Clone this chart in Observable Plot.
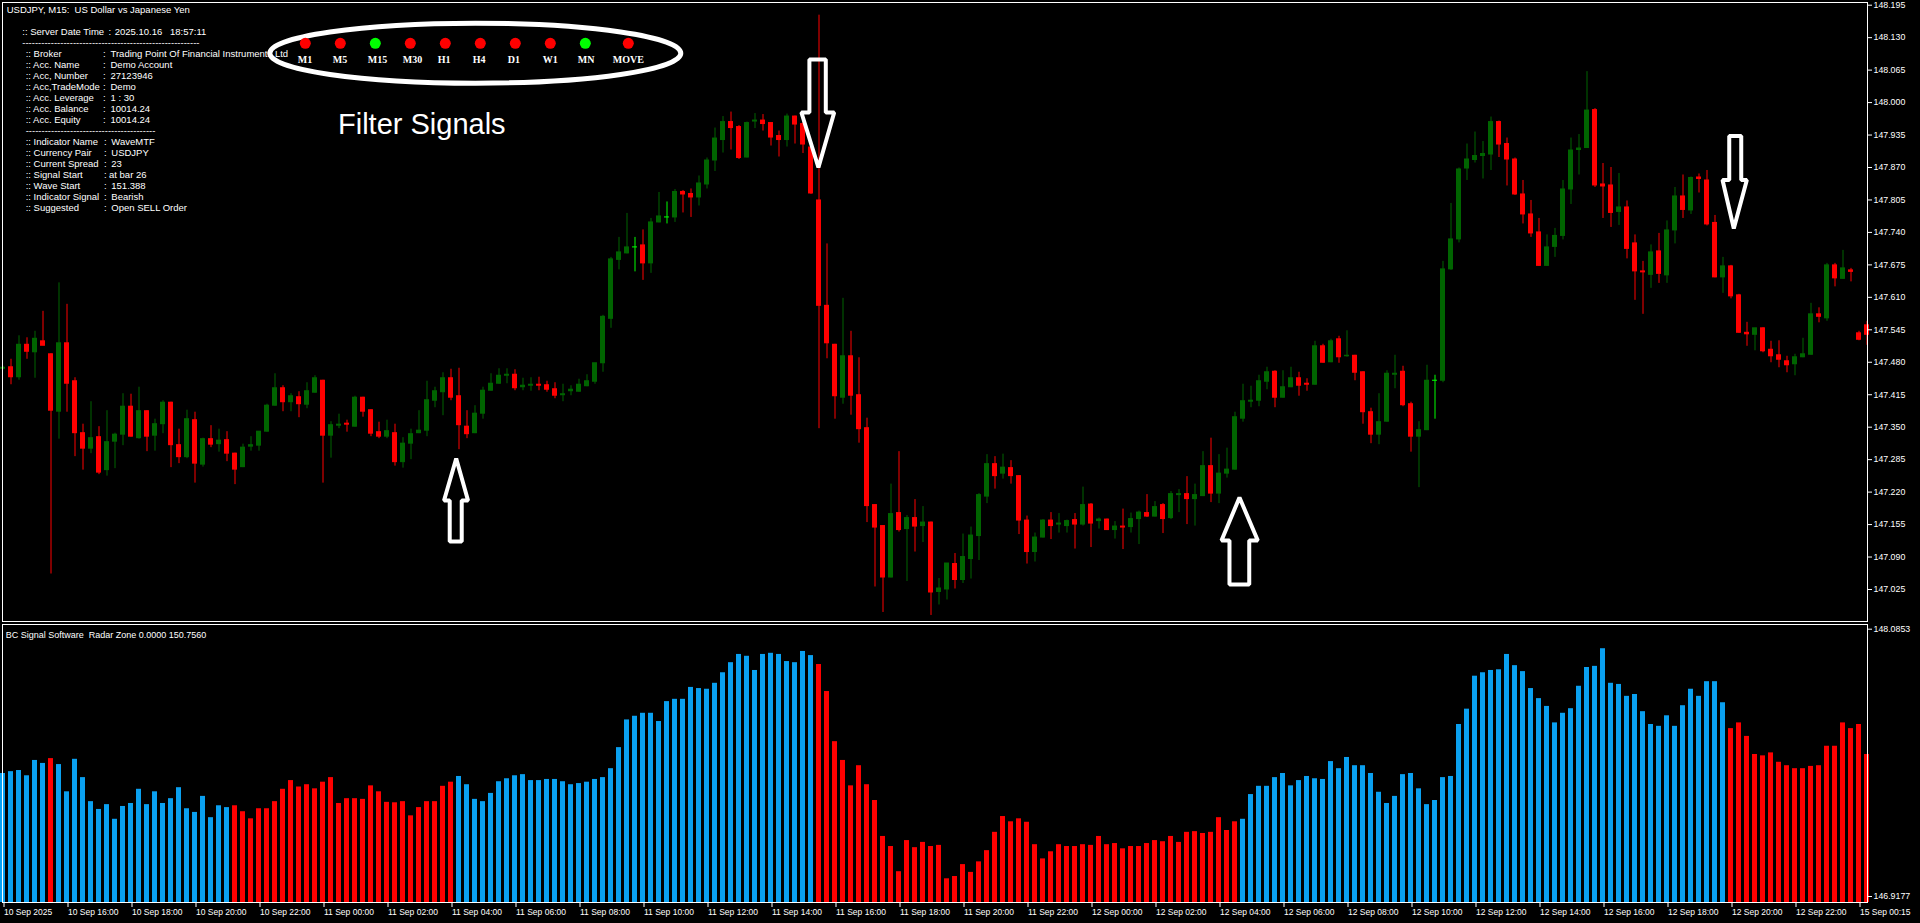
<!DOCTYPE html>
<html><head><meta charset="utf-8">
<script src="https://cdn.jsdelivr.net/npm/d3@7"></script>
<script src="https://cdn.jsdelivr.net/npm/@observablehq/plot@0.6"></script>
<style>
html,body{margin:0;padding:0;background:#000;}
#wrap{position:relative;width:1920px;height:923px;background:#000;overflow:hidden;}
#main,#lower{position:absolute;left:0;width:1920px;}
#main{top:0;}
#lower{top:622px;}
#overlay{position:absolute;left:0;top:0;pointer-events:none;}
</style></head>
<body><div id="wrap"><div id="main"></div><div id="lower"></div><svg id="overlay" width="1920" height="923"></svg></div>
<script>
// ---------- DATA (USDJPY M15, one entry per bar) ----------
const open = [
147.467,147.470,147.450,147.515,147.500,147.522,147.496,147.381,147.518,147.442,
147.338,147.307,147.330,147.264,147.321,147.335,147.391,147.328,147.382,147.333,
147.356,147.399,147.314,147.290,147.364,147.275,147.326,147.316,147.324,147.297,
147.270,147.311,147.313,147.341,147.393,147.428,147.400,147.410,147.395,147.419,
147.443,147.333,147.353,147.357,147.351,147.409,147.384,147.340,147.331,147.338,
147.280,147.317,147.338,147.343,147.403,147.420,147.448,147.412,147.351,147.338,
147.377,147.423,147.437,147.453,147.455,147.430,147.433,147.435,147.434,147.426,
147.414,147.422,147.421,147.432,147.441,147.478,147.567,147.685,147.698,147.710,
147.714,147.678,147.760,147.770,147.770,147.821,147.817,147.810,147.836,147.884,
147.925,147.961,147.951,147.890,147.962,147.964,147.959,147.933,147.925,147.972,
147.957,147.910,147.804,147.593,147.515,147.409,147.492,147.414,147.348,147.194,
147.152,147.049,147.178,147.146,147.168,147.152,147.159,147.020,147.025,147.076,
147.044,147.086,147.132,147.211,147.276,147.257,147.268,147.252,147.163,147.100,
147.129,147.163,147.155,147.152,147.164,147.155,147.195,147.162,147.165,147.144,
147.151,147.150,147.166,147.178,147.171,147.194,147.168,147.214,147.216,147.206,
147.212,147.272,147.217,147.257,147.265,147.367,147.401,147.403,147.441,147.461,
147.409,147.430,147.448,147.437,147.435,147.512,147.480,147.526,147.492,147.493,
147.460,147.380,147.335,147.361,147.455,147.461,147.396,147.331,147.344,147.443,
147.443,147.666,147.726,147.868,147.885,147.893,147.896,147.961,147.917,147.886,
147.816,147.776,147.740,147.673,147.711,147.733,147.826,147.905,147.909,147.985,
147.836,147.834,147.781,147.790,147.718,147.662,147.655,147.702,147.654,147.744,
147.812,147.784,147.850,147.844,147.759,147.650,147.672,147.614,147.539,147.535,
147.548,147.505,147.494,147.482,147.476,147.490,147.495,147.576,147.568,147.674,
147.647,147.664,147.538,147.554];
const high = [
147.472,147.486,147.533,147.529,147.542,147.582,147.497,147.639,147.596,147.449,
147.356,147.401,147.351,147.383,147.338,147.417,147.416,147.430,147.383,147.366,
147.403,147.400,147.346,147.384,147.380,147.328,147.353,147.346,147.341,147.298,
147.316,147.331,147.341,147.396,147.457,147.433,147.417,147.421,147.439,147.453,
147.444,147.361,147.376,147.364,147.412,147.410,147.385,147.360,147.364,147.356,
147.329,147.346,147.383,147.442,147.430,147.459,147.466,147.468,147.383,147.393,
147.430,147.457,147.467,147.467,147.465,147.448,147.449,147.450,147.442,147.439,
147.436,147.433,147.446,147.455,147.478,147.574,147.690,147.730,147.778,147.730,
147.745,147.768,147.820,147.801,147.826,147.824,147.827,147.853,147.889,147.949,
147.972,147.981,147.954,147.961,147.978,147.976,147.960,147.943,147.977,147.973,
147.963,147.916,148.175,147.717,147.516,147.608,147.542,147.489,147.368,147.195,
147.153,147.236,147.301,147.173,147.205,147.191,147.160,147.047,147.077,147.097,
147.136,147.150,147.217,147.295,147.291,147.296,147.283,147.253,147.172,147.138,
147.165,147.179,147.177,147.164,147.177,147.230,147.197,147.168,147.166,147.161,
147.186,147.178,147.182,147.215,147.201,147.197,147.221,147.225,147.251,147.236,
147.301,147.328,147.295,147.308,147.380,147.436,147.432,147.454,147.470,147.463,
147.463,147.470,147.460,147.447,147.522,147.516,147.526,147.532,147.543,147.494,
147.461,147.388,147.417,147.463,147.494,147.472,147.400,147.361,147.474,147.454,
147.682,147.798,147.869,147.917,147.941,147.922,147.971,147.963,147.929,147.889,
147.844,147.804,147.768,147.735,147.748,147.844,147.929,147.936,148.062,147.988,
147.878,147.870,147.858,147.803,147.735,147.682,147.715,147.738,147.763,147.830,
147.855,147.851,147.857,147.864,147.774,147.690,147.674,147.616,147.560,147.548,
147.549,147.522,147.523,147.492,147.496,147.528,147.598,147.589,147.678,147.678,
147.704,147.668,147.542,147.562];
const low = [
147.465,147.435,147.444,147.486,147.448,147.513,147.056,147.326,147.380,147.291,
147.264,147.297,147.255,147.252,147.267,147.313,147.330,147.326,147.301,147.302,
147.337,147.269,147.277,147.287,147.238,147.270,147.309,147.300,147.281,147.235,
147.269,147.302,147.302,147.340,147.392,147.381,147.381,147.369,147.387,147.418,
147.238,147.288,147.347,147.340,147.350,147.370,147.331,147.327,147.327,147.272,
147.268,147.285,147.337,147.331,147.389,147.373,147.403,147.305,147.327,147.337,
147.366,147.422,147.436,147.437,147.423,147.423,147.422,147.423,147.420,147.407,
147.401,147.413,147.420,147.431,147.436,147.460,147.548,147.665,147.697,147.661,
147.644,147.658,147.759,147.757,147.760,147.779,147.770,147.793,147.827,147.862,
147.899,147.905,147.886,147.889,147.948,147.943,147.913,147.891,147.911,147.917,
147.898,147.816,147.347,147.487,147.366,147.396,147.374,147.318,147.159,147.030,
146.979,147.048,147.140,147.041,147.100,147.119,146.973,146.994,147.004,147.026,
147.037,147.046,147.083,147.197,147.226,147.246,147.236,147.135,147.076,147.080,
147.128,147.125,147.138,147.138,147.106,147.152,147.109,147.146,147.143,147.126,
147.105,147.138,147.115,147.169,147.170,147.137,147.165,147.179,147.155,147.152,
147.211,147.199,147.197,147.248,147.264,147.360,147.389,147.391,147.425,147.389,
147.408,147.429,147.412,147.422,147.434,147.478,147.479,147.478,147.490,147.443,
147.356,147.317,147.315,147.360,147.427,147.391,147.300,147.229,147.343,147.366,
147.439,147.664,147.719,147.844,147.879,147.847,147.864,147.890,147.833,147.814,
147.757,147.730,147.672,147.672,147.690,147.725,147.796,147.855,147.908,147.830,
147.768,147.750,147.754,147.687,147.604,147.576,147.628,147.638,147.638,147.717,
147.768,147.776,147.819,147.753,147.649,147.618,147.607,147.538,147.512,147.503,
147.499,147.479,147.469,147.459,147.453,147.489,147.494,147.559,147.562,147.631,
147.646,147.641,147.523,147.514];
const close = [
147.469,147.450,147.515,147.501,147.527,147.513,147.383,147.518,147.437,147.338,
147.307,147.328,147.259,147.320,147.335,147.391,147.331,147.382,147.331,147.356,
147.399,147.314,147.290,147.366,147.277,147.326,147.315,147.323,147.297,147.265,
147.309,147.314,147.341,147.393,147.428,147.400,147.412,147.396,147.422,147.448,
147.333,147.354,147.355,147.355,147.409,147.381,147.337,147.331,147.342,147.280,
147.317,147.336,147.343,147.404,147.422,147.448,147.409,147.354,147.336,147.377,
147.423,147.437,147.453,147.455,147.428,147.433,147.435,147.433,147.425,147.413,
147.416,147.425,147.435,147.442,147.478,147.571,147.686,147.700,147.710,147.710,
147.678,147.760,147.772,147.770,147.821,147.816,147.810,147.838,147.884,147.928,
147.961,147.949,147.889,147.959,147.964,147.957,147.930,147.925,147.972,147.956,
147.916,147.818,147.593,147.518,147.412,147.492,147.413,147.346,147.192,147.149,
147.049,147.176,147.144,147.168,147.151,147.159,147.019,147.027,147.077,147.044,
147.090,147.133,147.214,147.276,147.252,147.269,147.252,147.163,147.100,147.129,
147.163,147.152,147.157,147.162,147.155,147.194,147.157,147.165,147.144,147.151,
147.149,147.166,147.179,147.171,147.190,147.166,147.216,147.216,147.206,147.214,
147.272,147.217,147.257,147.265,147.370,147.402,147.403,147.442,147.460,147.409,
147.430,147.448,147.433,147.435,147.512,147.479,147.522,147.490,147.493,147.459,
147.380,147.335,147.360,147.457,147.457,147.394,147.331,147.344,147.443,147.443,
147.666,147.726,147.866,147.886,147.893,147.897,147.961,147.916,147.886,147.816,
147.776,147.738,147.673,147.710,147.733,147.826,147.904,147.908,147.984,147.834,
147.832,147.779,147.790,147.707,147.662,147.660,147.700,147.657,147.744,147.812,
147.785,147.849,147.847,147.756,147.650,147.672,147.612,147.539,147.536,147.548,
147.502,147.492,147.485,147.474,147.490,147.496,147.576,147.571,147.674,147.648,
147.668,147.661,147.525,147.535];

// Radar Zone histogram (indicator value per bar) and its trend runs
const radar = [
147.455,147.463,147.468,147.445,147.512,147.499,147.520,147.494,147.375,147.517,
147.437,147.332,147.298,147.319,147.255,147.311,147.324,147.386,147.319,147.375,
147.324,147.345,147.393,147.301,147.285,147.355,147.262,147.314,147.306,147.314,
147.288,147.257,147.301,147.301,147.332,147.386,147.424,147.396,147.406,147.388,
147.417,147.437,147.324,147.345,147.345,147.342,147.401,147.375,147.329,147.327,
147.332,147.270,147.306,147.332,147.332,147.399,147.417,147.442,147.406,147.342,
147.332,147.368,147.419,147.432,147.445,147.450,147.424,147.424,147.429,147.429,
147.419,147.406,147.411,147.417,147.429,147.437,147.476,147.568,147.689,147.705,
147.718,147.718,147.682,147.769,147.779,147.779,147.831,147.826,147.823,147.849,
147.895,147.939,147.975,147.967,147.905,147.975,147.980,147.975,147.944,147.939,
147.988,147.970,147.931,147.813,147.594,147.512,147.401,147.489,147.406,147.337,
147.180,147.136,147.026,147.162,147.131,147.154,147.136,147.141,146.995,147.005,
147.057,147.023,147.069,147.118,147.198,147.267,147.244,147.257,147.242,147.144,
147.082,147.113,147.144,147.136,147.136,147.144,147.141,147.180,147.144,147.149,
147.126,147.136,147.136,147.149,147.162,147.157,147.180,147.154,147.198,147.201,
147.193,147.198,147.262,147.206,147.244,147.255,147.363,147.399,147.399,147.437,
147.455,147.401,147.424,147.442,147.432,147.429,147.507,147.476,147.525,147.489,
147.489,147.455,147.373,147.324,147.355,147.450,147.455,147.388,147.319,147.337,
147.437,147.442,147.669,147.736,147.880,147.895,147.905,147.908,147.975,147.926,
147.900,147.826,147.782,147.748,147.676,147.718,147.738,147.836,147.918,147.923,
148.000,147.849,147.844,147.792,147.800,147.725,147.669,147.661,147.707,147.661,
147.751,147.823,147.792,147.856,147.856,147.764,147.651,147.676,147.617,147.538,
147.532,147.545,147.504,147.489,147.476,147.476,147.486,147.489,147.574,147.574,
147.676,147.651,147.669,147.538];
const radarRuns = [
  {from: 0, to: 5, trend: "bull"}, {from: 6, to: 6, trend: "bear"},
  {from: 7, to: 28, trend: "bull"}, {from: 29, to: 56, trend: "bear"},
  {from: 57, to: 101, trend: "bull"}, {from: 102, to: 154, trend: "bear"},
  {from: 155, to: 215, trend: "bull"}, {from: 216, to: 233, trend: "bear"}
];

const priceTicks = [148.195,148.130,148.065,148.000,147.935,147.870,147.805,147.740,147.675,147.610,
  147.545,147.480,147.415,147.350,147.285,147.220,147.155,147.090,147.025];
const radarTicks = [148.0853, 146.9177];
const timeTickBars = [0,8,16,24,32,40,48,56,64,72,80,88,96,104,112,120,128,136,144,152,160,168,176,184,192,200,208,216,224,232];
const timeTickLabels = ["10 Sep 2025","10 Sep 16:00","10 Sep 18:00","10 Sep 20:00","10 Sep 22:00",
  "11 Sep 00:00","11 Sep 02:00","11 Sep 04:00","11 Sep 06:00","11 Sep 08:00","11 Sep 10:00",
  "11 Sep 12:00","11 Sep 14:00","11 Sep 16:00","11 Sep 18:00","11 Sep 20:00","11 Sep 22:00",
  "12 Sep 00:00","12 Sep 02:00","12 Sep 04:00","12 Sep 06:00","12 Sep 08:00","12 Sep 10:00",
  "12 Sep 12:00","12 Sep 14:00","12 Sep 16:00","12 Sep 18:00","12 Sep 20:00","12 Sep 22:00","15 Sep 00:15"];

// Hand-drawn signal arrows, in (bar, price) coordinates
const arrowBar = [
  56.63,57.34,57.34,58.13,56.65,55.13,55.84,55.84,56.63,
  101.83,102.85,102.85,103.90,101.93,99.80,100.80,100.80,101.83,
  154.55,155.78,155.78,156.85,154.56,152.31,153.31,153.31,154.55,
  216.53,217.28,217.28,217.98,216.35,214.94,215.78,215.78,216.53];
const arrowPrice = [
  147.1211,147.1211,147.2032,147.2032,147.2873,147.2032,147.2032,147.1211,147.1211,
  148.0863,148.0863,147.9801,147.9801,147.8700,147.9801,147.9801,148.0863,148.0863,
  147.0350,147.0350,147.1231,147.1231,147.2092,147.1231,147.1231,147.0350,147.0350,
  147.9329,147.9329,147.8450,147.8450,147.7479,147.8450,147.8450,147.9329,147.9329];
const arrowId = [1,1,1,1,1,1,1,1,1, 2,2,2,2,2,2,2,2,2, 3,3,3,3,3,3,3,3,3, 4,4,4,4,4,4,4,4,4];

// Dashboard
const timeframes = ["M1","M5","M15","M30","H1","H4","D1","W1","MN","MOVE"];
const tfSignal = ["down","down","up","down","down","down","down","down","up","down"];
const headerTitle = "USDJPY, M15:  US Dollar vs Japanese Yen";
const serverTime = ["2025.10.16", "18:57:11"];
const accountLabels = [":: Broker",":: Acc. Name",":: Acc, Number",":: Acc,TradeMode",":: Acc. Leverage",":: Acc. Balance",":: Acc. Equity"];
const accountValues = ["Trading Point Of Financial Instruments Ltd","Demo Account","27123946","Demo","1 : 30","10014.24","10014.24"];
const indicatorLabels = [":: Indicator Name",":: Currency Pair",":: Current Spread",":: Signal Start",":: Wave Start",":: Indicator Signal",":: Suggested"];
const indicatorValues = ["WaveMTF","USDJPY","23","at bar 26","151.388","Bearish","Open SELL Order"];
const subTitle = "BC Signal Software  Radar Zone 0.0000 150.7560";
const annotation = "Filter Signals";

// ---------- BUILD ----------
const FONT = "'Liberation Sans', Arial, sans-serif";
const N = open.length;
const candles = d3.range(N).map(i => ({i, o: open[i], h: high[i], l: low[i], c: close[i]}));
const candleColor = d => d.c > d.o ? "#006400" : d.c < d.o ? "#ff0000" : "#00ff00";
const half = 0.3125;
const xDomain = [-0.0625, 233.0625];
const trendAt = i => radarRuns.find(r => i >= r.from && i <= r.to).trend;
const bars = radar.map((v, i) => ({i, v, trend: trendAt(i)}));
const arrows = arrowBar.map((x, k) => ({x, y: arrowPrice[k], id: arrowId[k]}));

const mainPlot = Plot.plot({
  width: 1920, height: 622,
  marginLeft: 2, marginRight: 53, marginTop: 2, marginBottom: 1,
  style: {background: "transparent", color: "#fff", fontFamily: FONT, fontSize: "9px", overflow: "visible"},
  x: {domain: xDomain, axis: null, label: null},
  y: {domain: [146.9609, 148.2004], axis: null, label: null},
  marks: [
    Plot.ruleX(candles, {x: "i", y1: "l", y2: "h", stroke: candleColor, strokeWidth: 1}),
    Plot.rect(candles, {x1: d => d.i - half, x2: d => d.i + half,
      y1: d => Math.min(d.o, d.c), y2: d => Math.max(d.o, d.c),
      fill: candleColor, insetTop: -0.5, insetBottom: -0.5}),
    Plot.line(arrows, {x: "x", y: "y", z: "id", stroke: "#fff", strokeWidth: 4, strokeLinejoin: "miter", curve: "linear"}),
    Plot.axisY(priceTicks, {anchor: "right", label: null, tickSize: 4, tickPadding: 2, tickFormat: d => d.toFixed(3), fontSize: 8.8}),
    Plot.frame({stroke: "#fff"})
  ]
});
document.getElementById("main").appendChild(mainPlot);

const lowerPlot = Plot.plot({
  width: 1920, height: 301,
  marginLeft: 2, marginRight: 53, marginTop: 2, marginBottom: 21,
  style: {background: "transparent", color: "#fff", fontFamily: FONT, fontSize: "9px", overflow: "visible"},
  x: {domain: xDomain, axis: null, label: null},
  y: {domain: [146.8915, 148.1058], axis: null, label: null},
  marks: [
    Plot.rect(bars, {x1: d => d.i - half, x2: d => d.i + half, y1: 146.8915, y2: "v",
      fill: d => d.trend === "bull" ? "#0aa0f0" : "#ff0000"}),
    Plot.axisY(radarTicks, {anchor: "right", label: null, tickSize: 4, tickPadding: 2, tickFormat: d => d.toFixed(4), fontSize: 8.8}),
    Plot.axisX(timeTickBars, {anchor: "bottom", label: null, tickSize: 5, tickPadding: 1, textAnchor: "start", dx: 1,
      tickFormat: d => timeTickLabels[timeTickBars.indexOf(d)], fontSize: 8.5}),
    Plot.frame({stroke: "#fff"})
  ]
});
document.getElementById("lower").appendChild(lowerPlot);

// ---------- OVERLAY (dashboard text & signal oval) ----------
const ov = d3.select("#overlay");
function txt(x, y, s, size = 9.5, extra = {}) {
  return ov.append("text").attr("x", x).attr("y", y).attr("fill", "#fff")
    .attr("font-size", size).attr("font-family", extra.family || FONT)
    .attr("font-weight", extra.weight || "normal").style("white-space", "pre").text(s);
}
txt(6.7, 12.7, headerTitle);
txt(22.3, 35.3, ":: Server Date Time");
txt(108.5, 35.3, ":");
txt(114.7, 35.3, serverTime[0]);
txt(170, 35.3, serverTime[1]);
txt(22.3, 46, "-".repeat(56));
accountLabels.forEach((l, k) => {
  const y = 57 + 11 * k;
  txt(25.7, y, l); txt(103, y, ":"); txt(110.5, y, accountValues[k]);
});
txt(25.7, 134, "-".repeat(41));
indicatorLabels.forEach((l, k) => {
  const y = 145.3 + 11 * k;
  txt(25.7, y, l); txt(104, y, ":"); txt(k === 3 ? 109 : 111.3, y, indicatorValues[k]);
});
txt(5.7, 637.5, subTitle, 9);
txt(338, 134, annotation, 29);

// signal oval
ov.append("ellipse").attr("cx", 475.3).attr("cy", 53.2).attr("rx", 205.5).attr("ry", 30)
  .attr("fill", "none").attr("stroke", "#fff").attr("stroke-width", 5);
timeframes.forEach((tf, k) => {
  const cx = k < 9 ? 305.3 + 35 * k : 628.3;
  const lx = 297.7 + 35 * k;
  ov.append("circle").attr("cx", cx).attr("cy", 43.3).attr("r", 5.5)
    .attr("fill", tfSignal[k] === "up" ? "#00ff00" : "#ff0000");
  txt(lx, 62.7, tf, 10, {family: "'Liberation Serif', 'DejaVu Serif', serif", weight: "bold"});
});
</script>
</body></html>
